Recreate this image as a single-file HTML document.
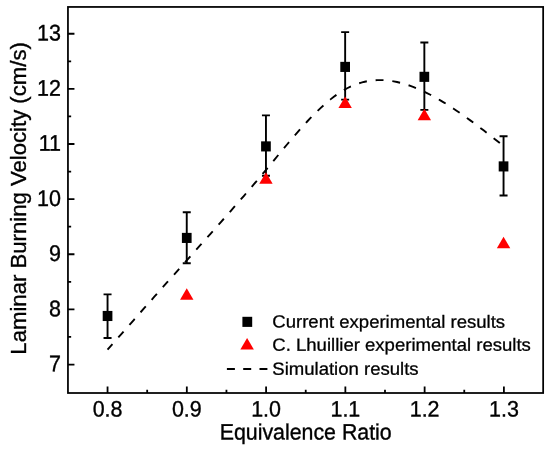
<!DOCTYPE html>
<html><head><meta charset="utf-8"><title>Laminar Burning Velocity</title>
<style>
html,body{margin:0;padding:0;background:#fff;}
svg{display:block;}
text{font-family:"Liberation Sans",Arial,sans-serif;fill:#000;stroke:#000;stroke-width:0.35px;}
.lg{stroke-width:0.3px;}
</style></head><body>
<svg width="550" height="450" viewBox="0 0 550 450">
<rect x="0" y="0" width="550" height="450" fill="#fff"/>

<path d="M107.55,294.40V338.01M103.55,294.40h8M103.55,338.01h8" stroke="#000" stroke-width="1.9" fill="none"/>
<path d="M186.75,212.21V263.20M182.75,212.21h8M182.75,263.20h8" stroke="#000" stroke-width="1.9" fill="none"/>
<path d="M265.95,115.34V175.71M261.95,115.34h8M261.95,175.71h8" stroke="#000" stroke-width="1.9" fill="none"/>
<path d="M345.15,32.10V99.63M341.15,32.10h8M341.15,99.63h8" stroke="#000" stroke-width="1.9" fill="none"/>
<path d="M424.35,42.57V109.83M420.35,42.57h8M420.35,109.83h8" stroke="#000" stroke-width="1.9" fill="none"/>
<path d="M503.55,136.29V195.56M499.55,136.29h8M499.55,195.56h8" stroke="#000" stroke-width="1.9" fill="none"/>
<rect x="102.70" y="310.93" width="9.7" height="10.1" fill="#000"/>
<rect x="181.90" y="232.87" width="9.7" height="10.1" fill="#000"/>
<rect x="261.10" y="141.35" width="9.7" height="10.1" fill="#000"/>
<rect x="340.30" y="61.85" width="9.7" height="10.1" fill="#000"/>
<rect x="419.50" y="71.78" width="9.7" height="10.1" fill="#000"/>
<rect x="498.70" y="161.36" width="9.7" height="10.1" fill="#000"/>
<path d="M186.75,288.25L193.45,299.85H180.05Z" fill="#f00"/>
<path d="M265.95,172.14L272.65,183.74H259.25Z" fill="#f00"/>
<path d="M345.15,96.45L351.85,108.05H338.45Z" fill="#f00"/>
<path d="M424.35,108.63L431.05,120.23H417.65Z" fill="#f00"/>
<path d="M503.55,236.64L510.25,248.24H496.85Z" fill="#f00"/>
<polyline points="107.55,349.64 110.88,345.88 114.21,342.11 117.53,338.34 120.86,334.58 124.19,330.81 127.52,327.05 130.84,323.29 134.17,319.52 137.50,315.76 140.83,312.00 144.16,308.24 147.48,304.49 150.81,300.73 154.14,296.98 157.47,293.23 160.79,289.48 164.12,285.73 167.45,281.99 170.78,278.25 174.10,274.51 177.43,270.77 180.76,267.04 184.09,263.31 187.42,259.59 190.74,255.87 194.07,252.15 197.40,248.43 200.73,244.71 204.05,240.99 207.38,237.27 210.71,233.54 214.04,229.81 217.37,226.07 220.69,222.32 224.02,218.56 227.35,214.79 230.68,211.02 234.00,207.22 237.33,203.42 240.66,199.60 243.99,195.76 247.31,191.90 250.64,188.03 253.97,184.13 257.30,180.22 260.63,176.28 263.95,172.31 267.28,168.32 270.61,164.31 273.94,160.29 277.26,156.26 280.59,152.24 283.92,148.24 287.25,144.26 290.58,140.32 293.90,136.42 297.23,132.59 300.56,128.81 303.89,125.11 307.21,121.50 310.54,117.97 313.87,114.56 317.20,111.25 320.52,108.07 323.85,105.03 327.18,102.12 330.51,99.37 333.84,96.78 337.16,94.36 340.49,92.13 343.82,90.08 347.15,88.24 350.47,86.60 353.80,85.15 357.13,83.90 360.46,82.83 363.79,81.95 367.11,81.24 370.44,80.70 373.77,80.33 377.10,80.13 380.42,80.08 383.75,80.18 387.08,80.43 390.41,80.82 393.73,81.35 397.06,82.01 400.39,82.79 403.72,83.70 407.05,84.73 410.37,85.86 413.70,87.11 417.03,88.45 420.36,89.89 423.68,91.43 427.01,93.05 430.34,94.75 433.67,96.54 437.00,98.40 440.32,100.33 443.65,102.33 446.98,104.39 450.31,106.52 453.63,108.71 456.96,110.94 460.29,113.23 463.62,115.57 466.94,117.95 470.27,120.37 473.60,122.82 476.93,125.31 480.26,127.82 483.58,130.36 486.91,132.93 490.24,135.51 493.57,138.10 496.89,140.71 500.22,143.32 503.55,145.94" fill="none" stroke="#000" stroke-width="1.9" stroke-dasharray="7.9 8.87" stroke-dashoffset="0.5"/>
<rect x="67.95" y="6.95" width="475.20" height="386.05" fill="none" stroke="#000" stroke-width="1.75"/>
<path d="M107.55,393.0v-6.5M186.82,393.0v-6.5M266.09,393.0v-6.5M345.36,393.0v-6.5M424.63,393.0v-6.5M503.90,393.0v-6.5M147.18,393.0v-3.2M226.45,393.0v-3.2M305.73,393.0v-3.2M384.99,393.0v-3.2M464.26,393.0v-3.2M67.95,364.53h6.5M67.95,309.40h6.5M67.95,254.27h6.5M67.95,199.14h6.5M67.95,144.01h6.5M67.95,88.88h6.5M67.95,33.75h6.5M67.95,336.97h3.2M67.95,281.84h3.2M67.95,226.71h3.2M67.95,171.58h3.2M67.95,116.45h3.2M67.95,61.31h3.2" stroke="#000" stroke-width="1.8" fill="none"/>
<text transform="translate(107.55,416.6) rotate(0.03) scale(1,1.035)" font-size="21.5" text-anchor="middle">0.8</text>
<text transform="translate(186.82,416.6) rotate(0.03) scale(1,1.035)" font-size="21.5" text-anchor="middle">0.9</text>
<text transform="translate(266.09,416.6) rotate(0.03) scale(1,1.035)" font-size="21.5" text-anchor="middle">1.0</text>
<text transform="translate(345.36,416.6) rotate(0.03) scale(1,1.035)" font-size="21.5" text-anchor="middle">1.1</text>
<text transform="translate(424.63,416.6) rotate(0.03) scale(1,1.035)" font-size="21.5" text-anchor="middle">1.2</text>
<text transform="translate(503.90,416.6) rotate(0.03) scale(1,1.035)" font-size="21.5" text-anchor="middle">1.3</text>
<text transform="translate(61,371.38) rotate(0.03) scale(1,1.05)" font-size="21.5" text-anchor="end">7</text>
<text transform="translate(61,316.25) rotate(0.03) scale(1,1.05)" font-size="21.5" text-anchor="end">8</text>
<text transform="translate(61,261.12) rotate(0.03) scale(1,1.05)" font-size="21.5" text-anchor="end">9</text>
<text transform="translate(61,205.99) rotate(0.03) scale(1,1.05)" font-size="21.5" text-anchor="end">10</text>
<text transform="translate(61,150.86) rotate(0.03) scale(1,1.05)" font-size="21.5" text-anchor="end">11</text>
<text transform="translate(61,95.73) rotate(0.03) scale(1,1.05)" font-size="21.5" text-anchor="end">12</text>
<text transform="translate(61,40.60) rotate(0.03) scale(1,1.05)" font-size="21.5" text-anchor="end">13</text>
<text transform="translate(305.7,439.5) rotate(0.03) scale(1,1.04)" font-size="21.35" text-anchor="middle">Equivalence Ratio</text>
<text transform="translate(26.0,198.4) rotate(-90) scale(1,1.03)" font-size="22.15" text-anchor="middle">Laminar Burning Velocity (cm/s)</text>
<rect x="242.4" y="316.8" width="9.8" height="10.1" fill="#000"/>
<path d="M247.1,337.9L253.85,349.6H240.35Z" fill="#f00"/>
<path d="M226.9,368.9H267.4" stroke="#000" stroke-width="2" stroke-dasharray="8 8.3" fill="none"/>
<text class="lg" transform="translate(272.3,327.6) rotate(0.03) scale(1,0.95)" font-size="18.55">Current experimental results</text>
<text class="lg" transform="translate(272.3,350.65) rotate(0.03) scale(1,0.95)" font-size="18.55">C. Lhuillier experimental results</text>
<text class="lg" transform="translate(272.3,374.65) rotate(0.03) scale(1,0.95)" font-size="18.55">Simulation results</text>
</svg></body></html>
